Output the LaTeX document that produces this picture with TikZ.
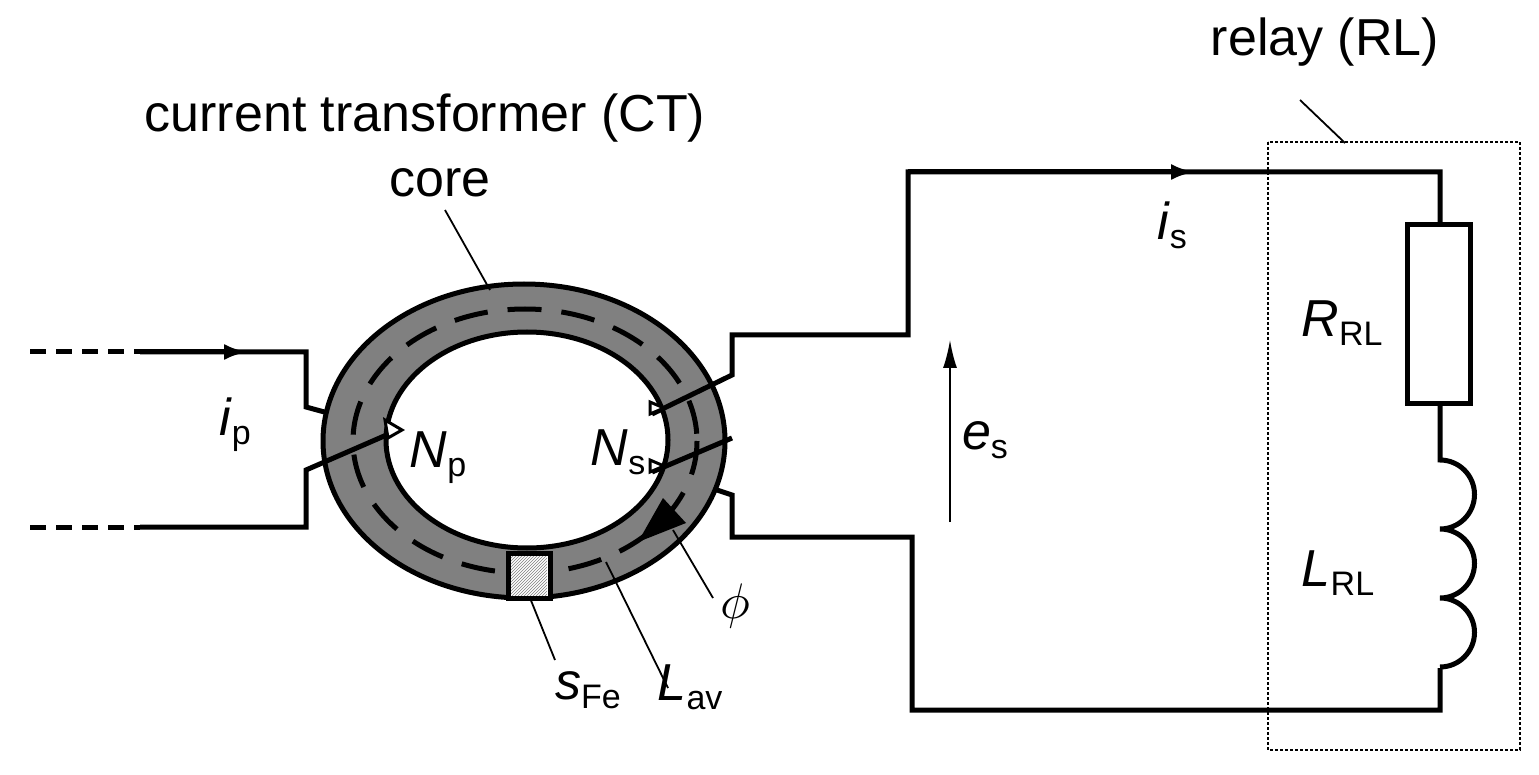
\documentclass[tikz,border=0pt]{standalone}
\usepackage{fontspec}
\setmainfont{Liberation Sans}
\usetikzlibrary{arrows.meta,patterns}
\newcommand\lbl[2]{\textit{#1}\raisebox{-9pt}{\fontsize{34}{34}\selectfont #2}}
\begin{document}
\begin{tikzpicture}[x=1pt,y=-1pt,
  wire/.style={line width=5pt,line join=miter},
  thin/.style={line width=1.8pt},
  txt/.style={font=\fontsize{52}{52}\selectfont,inner sep=0pt},
  arr/.style={-{Latex[length=24pt,width=16pt]}}]
\useasboundingbox (0,0) rectangle (1539,775);
% core
\fill[fill=gray,even odd rule] (524,441) ellipse [x radius=201,y radius=157] (527,440) ellipse [x radius=141,y radius=108];
\draw[wire] (524,441) ellipse [x radius=201,y radius=157];
\draw[wire] (527,440) ellipse [x radius=141,y radius=108];
\draw[line width=5pt,dash pattern=on 34pt off 20pt] (525,441) ellipse [x radius=172,y radius=132];
\filldraw[wire,fill=white] (508,553) rectangle (550,598);
\fill[pattern=north east lines,pattern color=gray] (511,556) rectangle (547,595);
% primary
\draw[wire,dash pattern=on 16pt off 10pt] (30,352) -- (140,352);
\draw[wire,dash pattern=on 16pt off 10pt] (30,527) -- (140,527);
\draw[wire] (140,352) -- (306,352) -- (306,407) -- (328,413);
\draw[wire,arr] (140,352) -- (248,352);
\draw[wire] (140,527) -- (306,527) -- (306,470) -- (398,430);
\filldraw[fill=white,line width=3pt] (402,430) -- (385,420) -- (388,438) -- cycle;
% secondary
\draw[wire] (652,414) -- (732,375) -- (732,335) -- (908,335) -- (908,172) -- (1440,172) -- (1440,225);
\draw[wire,arr] (908,172) -- (1195,172);
\draw[wire] (652,472) -- (732,438);
\draw[wire] (717,490) -- (732,495) -- (732,537) -- (912,537) -- (912,710) -- (1440,710) -- (1440,668);
\filldraw[line width=3pt,fill=white] (650,414) -- (650,402) -- (664,408) -- cycle;
\filldraw[line width=3pt,fill=white] (650,472) -- (650,460) -- (664,466) -- cycle;
% relay
\draw[thin,dash pattern=on 3pt off 2pt] (1268,142) rectangle (1520,750);
\draw[wire] (1407,225) rectangle (1470,403);
\draw[wire] (1440,403) -- (1440,460) arc[start angle=-90,end angle=90,radius=34.5] arc[start angle=-90,end angle=90,radius=34.5] arc[start angle=-90,end angle=90,radius=34.5];
% flux arrow
\fill (663,498) -- (686,523) -- (638,542) -- cycle;
% emf arrow
\draw[thin,-{Latex[length=28pt,width=14pt]}] (950,522) -- (950,340);
% leader lines
\draw[thin] (445,210) -- (490,290);
\draw[thin] (530,598) -- (555,660);
\draw[thin] (606,562) -- (668,688);
\draw[thin] (673,530) -- (713,598);
\draw[thin] (1300,100) -- (1345,143);
% texts
\node[txt] (ct) at (425,118) {current transformer (CT)};
\node[txt] (core) at (440,183) {core};
\node[txt] (rel) at (1325,42) {relay (RL)};
\node[txt] (ip) at (235,425) {\lbl{i}{p}};
\node[txt] (np) at (438,458) {\lbl{N}{p}};
\node[txt] (ns) at (618,452) {\lbl{N}{s}};
\node[txt] (es) at (985,440) {\lbl{e}{s}};
\node[txt] (is) at (1172,225) {\lbl{i}{s}};
\node[txt] (rr) at (1342,323) {\lbl{R}{RL}};
\node[txt] (lr) at (1338,573) {\lbl{L}{RL}};
\node[txt] (sfe) at (588,690) {\lbl{s}{Fe}};
\node[txt] (lav) at (690,687) {\lbl{L}{av}};
\node[inner sep=0pt] (phi) at (735,606) {\scalebox{5}{$\phi$}};
\end{tikzpicture}
\end{document}
